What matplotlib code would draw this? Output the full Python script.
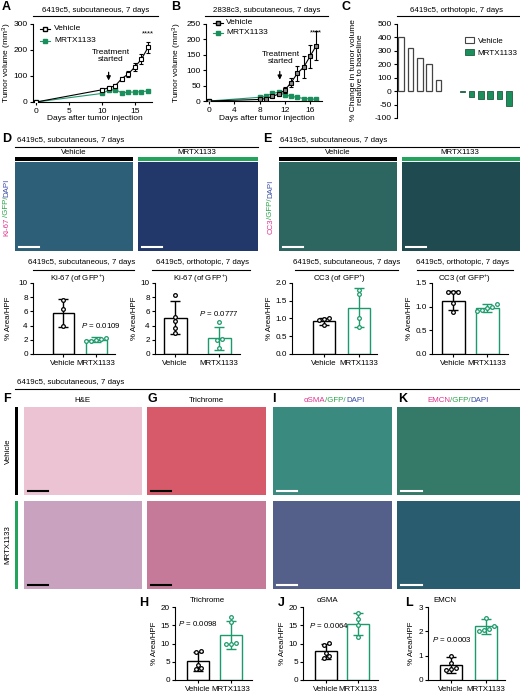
import numpy as np
import matplotlib
matplotlib.use("Agg")
import matplotlib.pyplot as plt
from matplotlib.lines import Line2D
from matplotlib.patches import Rectangle, Patch

FS = 5.7
TFS = 6.0
plt.rcParams['font.family'] = ['Liberation Sans', 'DejaVu Sans']
plt.rcParams['font.size'] = FS
plt.rcParams['mathtext.fontset'] = 'custom'
plt.rcParams['mathtext.rm'] = 'Liberation Sans'
plt.rcParams['mathtext.it'] = 'Liberation Sans:italic'
plt.rcParams['axes.linewidth'] = 0.8
plt.rcParams['xtick.major.width'] = 0.8
plt.rcParams['ytick.major.width'] = 0.8
plt.rcParams['xtick.major.size'] = 2.5
plt.rcParams['ytick.major.size'] = 2.5
plt.rcParams['xtick.major.pad'] = 1.5
plt.rcParams['ytick.major.pad'] = 1.2

# ---- data ----
days_a = [0, 10, 11, 12, 13, 14, 15, 16, 17]
veh_a = [0, 47, 55, 62, 90, 108, 135, 165, 210]
veh_a_err = [0, 5, 5, 6, 8, 12, 15, 18, 22]
mrtx_a = [0, 33, 45, 48, 35, 38, 38, 40, 42]
mrtx_a_err = [0, 3, 4, 4, 3, 4, 3, 3, 4]

days_b = [0, 8, 9, 10, 11, 12, 13, 14, 15, 16, 17]
veh_b = [0, 5, 8, 15, 22, 35, 60, 90, 110, 145, 180]
veh_b_err = [0, 2, 3, 4, 6, 10, 15, 25, 35, 38, 48]
mrtx_b = [0, 12, 15, 25, 28, 20, 15, 12, 8, 7, 5]
mrtx_b_err = [0, 2, 2, 3, 3, 3, 2, 2, 2, 2, 1]

veh_c = [400, 320, 250, 200, 85]
mrtx_c = [-5, -20, -28, -28, -28, -55]

groups = ["Vehicle", "MRTX1133"]

ki67_sc_mean = [5.8, 2.0]
ki67_sc_sd = [2.0, 0.35]
ki67_sc_pts = [[7.6, 6.3, 3.9], [2.3, 2.1, 1.9, 2.0, 1.8]]

ki67_or_mean = [5.1, 2.2]
ki67_or_sd = [2.3, 1.6]
ki67_or_pts = [[8.3, 5.2, 4.6, 3.6, 2.9], [4.5, 2.1, 2.0, 0.8]]

cc3_sc_mean = [0.92, 1.30]
cc3_sc_sd = [0.10, 0.55]
cc3_sc_pts = [[1.0, 0.98, 0.96, 0.82], [1.8, 1.7, 1.0, 0.76]]

cc3_or_mean = [1.13, 0.97]
cc3_or_sd = [0.20, 0.08]
cc3_or_pts = [[1.32, 1.31, 1.30, 1.08, 0.88], [1.05, 1.0, 0.98, 0.94, 0.91]]

tri_mean = [5.2, 12.3]
tri_sd = [2.6, 3.9]
tri_pts = [[8.0, 7.6, 4.0, 3.2, 3.0], [17.2, 15.8, 10.0, 10.1, 9.9]]

sma_mean = [7.9, 15.3]
sma_sd = [2.1, 3.0]
sma_pts = [[10.2, 9.5, 7.5, 6.5, 6.0], [18.4, 16.6, 15.2, 11.8]]

emcn_mean = [0.62, 2.2]
emcn_sd = [0.32, 0.3]
emcn_pts = [[1.0, 0.7, 0.5, 0.42, 0.45], [2.55, 2.2, 2.1, 2.05, 2.0]]

GREEN = '#1d9a6c'
GREEN_FILL = '#1a8f5c'
GREEN_BAR = '#22a45d'
MAG = '#e0338f'
TXT_GREEN = '#2aa34a'
BLUE = '#3b4fa8'

W, H = 520, 694
fig = plt.figure(figsize=(W / 100, H / 100), dpi=100)


def fx(x):
    return x / W


def fy(y):
    return 1 - y / H


def text(x, y, s, **kw):
    kw.setdefault('ha', 'center')
    kw.setdefault('va', 'center')
    kw.setdefault('size', FS)
    return fig.text(fx(x), fy(y), s, **kw)


def hline(x0, x1, y, color='k', lw=0.8):
    fig.add_artist(Line2D([fx(x0), fx(x1)], [fy(y), fy(y)], color=color, lw=lw))


def rect(x0, y0, x1, y1, color):
    fig.add_artist(Rectangle((fx(x0), fy(y1)), fx(x1) - fx(x0), fy(y0) - fy(y1),
                             facecolor=color, edgecolor='none', transform=fig.transFigure))


def axes_px(x0, y0, x1, y1):
    return fig.add_axes([fx(x0), fy(y1), (x1 - x0) / W, (y1 - y0) / H])


def label(x, y, s):
    text(x, y, s, ha='left', size=9, weight='bold')


def prism(ax, size=TFS):
    for sp in ['top', 'right']:
        ax.spines[sp].set_visible(False)
    ax.tick_params(labelsize=size)


def multicolor(x, y, parts, colors, rotation=0, size=FS):
    r = fig.canvas.get_renderer()
    widths = []
    for p in parts:
        t = fig.text(0, 0, p, size=size)
        widths.append(t.get_window_extent(r).width)
        t.remove()
    pos = -sum(widths) / 2
    for p, c, w in zip(parts, colors, widths):
        if rotation == 0:
            text(x + pos, y, p, ha='left', color=c, size=size)
        else:
            text(x, y - pos, p, ha='left', va='center', color=c, size=size,
                 rotation=90, rotation_mode='anchor')
        pos += w


def image(x0, y0, x1, y1, color, bar_color='white'):
    ax = axes_px(x0, y0, x1, y1)
    ax.set_facecolor(color)
    ax.set_xticks([])
    ax.set_yticks([])
    for sp in ax.spines.values():
        sp.set_visible(False)
    ax.plot([0.03, 0.2], [0.05, 0.05], color=bar_color, lw=1.5, transform=ax.transAxes)
    return ax


def swarm(vals, thr, step=0.13):
    vals = np.asarray(vals, float)
    order = np.argsort(vals)
    xs = np.zeros(len(vals))
    grp = [order[0]]
    groups_idx = []
    for k in order[1:]:
        if vals[k] - vals[grp[-1]] < thr:
            grp.append(k)
        else:
            groups_idx.append(grp)
            grp = [k]
    groups_idx.append(grp)
    for g in groups_idx:
        n = len(g)
        for j, k in enumerate(g):
            xs[k] = (j - (n - 1) / 2) * step
    return xs


def bar_panel(box, cv, cm, bw, means, sds, pts, ylim, yticks, fmt,
              title, title_xy, pval=None, pval_xy=None, pad=2):
    L, T, R, B = box
    ax = axes_px(L, T, R, B)
    s = cm - cv
    ax.set_xlim((L - cv) / s, (R - cv) / s)
    ax.set_ylim(*ylim)
    cols = ['black', GREEN]
    for i in range(2):
        ax.bar(i, means[i], width=bw / s, facecolor='white', edgecolor=cols[i], lw=1, zorder=1)
        ax.errorbar(i, means[i], yerr=sds[i], color=cols[i], capsize=3.5, capthick=1,
                    elinewidth=1, zorder=2)
        xs = i + swarm(pts[i], 0.035 * (ylim[1] - ylim[0]), step=5 / s)
        ax.scatter(xs, pts[i], s=7, facecolor='white', edgecolor=cols[i], lw=0.9,
                   zorder=3, clip_on=False)
    prism(ax, 5.9)
    ax.set_xticks([0, 1])
    ax.set_xticklabels(groups, size=FS)
    ax.set_yticks(yticks)
    ax.set_yticklabels([fmt.format(v) for v in yticks])
    ax.set_ylabel("% Area/HPF", size=FS, labelpad=pad)
    text(title_xy[0], title_xy[1], title)
    if pval:
        text(pval_xy[0], pval_xy[1], r"$\it{P}$ = " + pval, ha='left')
    return ax


# ---- A ----
label(2, 7, "A")
text(96, 10, "6419c5, subcutaneous, 7 days")
hline(33, 158, 16)
ax = axes_px(33, 24, 152, 102)
ax.errorbar(days_a, veh_a, yerr=veh_a_err, color='black', lw=0.8, marker='s', ms=3.0,
            mfc='white', mec='black', mew=0.8, capsize=1.5, elinewidth=0.8, zorder=3)
ax.errorbar(days_a, mrtx_a, yerr=mrtx_a_err, color=GREEN, lw=0.8, marker='s', ms=3.0,
            mfc=GREEN_FILL, mec=GREEN_FILL, capsize=1.5, elinewidth=0.8, zorder=2)
ax.set_xlim(-0.5, 17.6)
ax.set_ylim(0, 300)
ax.set_xticks([0, 5, 10, 15])
ax.set_yticks([0, 100, 200, 300])
prism(ax)
ax.annotate("", xy=(11, 72), xytext=(11, 125),
            arrowprops=dict(arrowstyle='-|>', color='black', lw=0.9, mutation_scale=6))
ax.text(11.3, 178, "Treatment\nstarted", ha='center', va='center', size=TFS, linespacing=1.0)
ax.text(17, 262, "****", ha='center', va='center', size=FS)
text(95, 118, "Days after tumor injection", size=TFS)
text(7, 63, "Tumor volume (mm$^3$)", rotation=90, size=TFS)
fig.add_artist(Line2D([fx(40), fx(45), fx(50)], [fy(29)] * 3, color='black', lw=0.8,
                      marker='s', ms=3.0, mfc='white', mec='black', markevery=[1]))
text(54, 29, "Vehicle", ha='left', size=TFS)
fig.add_artist(Line2D([fx(40), fx(45), fx(50)], [fy(41)] * 3, color=GREEN, lw=0.8,
                      marker='s', ms=3.0, mfc=GREEN_FILL, mec=GREEN_FILL, markevery=[1]))
text(54, 41, "MRTX1133", ha='left', size=TFS)

# ---- B ----
label(171, 7, "B")
text(267, 10, "2838c3, subcutaneous, 7 days")
hline(205, 328, 16)
ax = axes_px(206, 24, 322, 101)
ax.errorbar(days_b, veh_b, yerr=veh_b_err, color='black', lw=0.8, marker='s', ms=3.0,
            mfc='#888888', mec='black', mew=0.8, capsize=1.5, elinewidth=0.8, zorder=3)
ax.errorbar(days_b, mrtx_b, yerr=mrtx_b_err, color=GREEN, lw=0.8, marker='s', ms=3.0,
            mfc=GREEN_FILL, mec=GREEN_FILL, capsize=1.5, elinewidth=0.8, zorder=2)
ax.set_xlim(-0.5, 17.9)
ax.set_ylim(0, 250)
ax.set_xticks([0, 4, 8, 12, 16])
ax.set_yticks([0, 50, 100, 150, 200, 250])
prism(ax)
ax.annotate("", xy=(11.2, 60), xytext=(11.2, 105),
            arrowprops=dict(arrowstyle='-|>', color='black', lw=0.9, mutation_scale=6))
ax.text(11.4, 138, "Treatment\nstarted", ha='center', va='center', size=TFS, linespacing=1.0)
ax.text(17, 222, "****", ha='center', va='center', size=FS)
text(267, 118, "Days after tumor injection", size=TFS)
text(177, 63, "Tumor volume (mm$^3$)", rotation=90, size=TFS)
fig.add_artist(Line2D([fx(213), fx(218), fx(223)], [fy(23)] * 3, color='black', lw=0.8,
                      marker='s', ms=3.0, mfc='#888888', mec='black', markevery=[1]))
text(226, 23, "Vehicle", ha='left', size=TFS)
fig.add_artist(Line2D([fx(213), fx(218), fx(223)], [fy(33)] * 3, color=GREEN, lw=0.8,
                      marker='s', ms=3.0, mfc=GREEN_FILL, mec=GREEN_FILL, markevery=[1]))
text(226, 33, "MRTX1133", ha='left', size=TFS)

# ---- C ----
label(342, 7, "C")
text(457, 10, "6419c5, orthotopic, 7 days")
hline(397, 520, 16)
ax = axes_px(397, 24, 513, 118)


def fwd(y):
    y = np.asarray(y, float)
    return np.where(y >= 0, y, 2 * y)


def inv(y):
    y = np.asarray(y, float)
    return np.where(y >= 0, y, y / 2)


ax.set_yscale('function', functions=(fwd, inv))
xv = np.arange(len(veh_c))
xm = len(veh_c) + 1.6 + np.arange(len(mrtx_c))
ax.bar(xv, veh_c, width=0.6, facecolor='white', edgecolor='#444444', lw=0.9)
ax.bar(xm, mrtx_c, width=0.6, facecolor=GREEN_FILL, edgecolor='#1d5c3c', lw=0.6)
ax.set_xlim(-0.45, xm[-1] + 0.45)
ax.set_ylim(-100, 500)
ax.set_yticks([-100, -50, 0, 100, 200, 300, 400, 500])
ax.set_yticklabels(['-100', '-50', '0', '100', '200', '300', '400', '500'])
prism(ax)
ax.spines['bottom'].set_visible(False)
ax.set_xticks([])
text(357, 70, "% Change in tumor volume\nrelative to baseline", rotation=90, linespacing=1.0,
     size=TFS)
ax.legend(handles=[Patch(facecolor='white', edgecolor='#444444', lw=0.8, label='Vehicle'),
                   Patch(facecolor=GREEN_FILL, edgecolor='#1d5c3c', lw=0.6, label='MRTX1133')],
          loc='upper left', bbox_to_anchor=(0.555, 0.9), frameon=False, fontsize=5.8,
          handlelength=1.2, handleheight=0.8, handletextpad=0.4, labelspacing=0.6,
          borderaxespad=0)

# ---- D ----
label(2, 139, "D")
text(17, 141, "6419c5, subcutaneous, 7 days", ha='left')
hline(15, 258, 147)
text(74, 153, "Vehicle")
text(197, 153, "MRTX1133")
rect(15, 157, 133, 161, 'black')
rect(138, 157, 258, 161, GREEN_BAR)
image(15, 162, 133, 251, '#2d5f78')
image(138, 162, 258, 251, '#22386a')
multicolor(7, 207, ["Ki-67", "/GFP/", "DAPI"], [MAG, TXT_GREEN, BLUE], rotation=90)

# ---- E ----
label(263, 139, "E")
text(280, 141, "6419c5, subcutaneous, 7 days", ha='left')
hline(279, 520, 147)
text(338, 153, "Vehicle")
text(460, 153, "MRTX1133")
rect(279, 157, 397, 161, 'black')
rect(402, 157, 520, 161, GREEN_BAR)
image(279, 162, 397, 251, '#2d6660')
image(402, 162, 520, 251, '#1f4a50')
multicolor(271, 207, ["CC3", "/GFP/", "DAPI"], [MAG, TXT_GREEN, BLUE], rotation=90)

# ---- bar charts, middle row ----
text(82, 262, "6419c5, subcutaneous, 7 days")
hline(33, 134, 270)
bar_panel((33, 283, 115, 354), 63, 96, 21, ki67_sc_mean, ki67_sc_sd, ki67_sc_pts,
          (0, 10), [0, 2, 4, 6, 8, 10], "{:g}", "Ki-67 (of GFP$^{+}$)", (78, 279),
          "0.0109", (81, 325), pad=5)
text(203, 262, "6419c5, orthotopic, 7 days")
hline(152, 250, 270)
bar_panel((155, 283, 240, 354), 175, 219, 23, ki67_or_mean, ki67_or_sd, ki67_or_pts,
          (0, 10), [0, 2, 4, 6, 8, 10], "{:g}", "Ki-67 (of GFP$^{+}$)", (201, 279),
          "0.0777", (199, 313))
text(347, 262, "6419c5, subcutaneous, 7 days")
hline(295, 398, 270)
bar_panel((292, 283, 377, 354), 324, 359, 22, cc3_sc_mean, cc3_sc_sd, cc3_sc_pts,
          (0, 2.0), [0, 0.5, 1.0, 1.5, 2.0], "{:.1f}", "CC3 (of GFP$^{+}$)", (340, 279))
text(462, 262, "6419c5, orthotopic, 7 days")
hline(417, 513, 270)
bar_panel((432, 283, 508, 354), 453, 487, 23, cc3_or_mean, cc3_or_sd, cc3_or_pts,
          (0, 1.5), [0, 0.5, 1.0, 1.5], "{:.1f}", "CC3 (of GFP$^{+}$)", (465, 279))

# ---- F-K ----
text(17, 383, "6419c5, subcutaneous, 7 days", ha='left')
hline(15, 520, 389)
label(3, 399, "F")
text(82, 400, "H&E")
label(148, 399, "G")
text(206, 400, "Trichrome")
label(272, 399, "I")
multicolor(334, 400, ["\u03b1SMA", "/GFP/", "DAPI"], [MAG, TXT_GREEN, BLUE])
label(398, 399, "K")
multicolor(458, 400, ["EMCN", "/GFP/", "DAPI"], [MAG, TXT_GREEN, BLUE])

rect(15, 407, 18, 495, 'black')
rect(15, 501, 18, 589, GREEN_BAR)
text(8, 451, "Vehicle", rotation=90)
text(8, 545, "MRTX1133", rotation=90)

image(24, 407, 142, 495, '#ebc3d3', bar_color='black')
image(147, 407, 266, 495, '#d65a6a', bar_color='black')
image(273, 407, 392, 495, '#3b8a80')
image(397, 407, 520, 495, '#357a68')
image(24, 501, 142, 589, '#c9a2c0', bar_color='black')
image(147, 501, 266, 589, '#c47a98', bar_color='black')
image(273, 501, 392, 589, '#55608a')
image(397, 501, 520, 589, '#2a5c70')

# ---- H, J, L ----
label(139, 603, "H")
bar_panel((175, 607, 252, 680), 198, 231, 22, tri_mean, tri_sd, tri_pts,
          (0, 20), [0, 5, 10, 15, 20], "{:g}", "Trichrome", (207, 600),
          "0.0098", (178, 624))
label(278, 603, "J")
bar_panel((303, 607, 378, 680), 326, 358, 22, sma_mean, sma_sd, sma_pts,
          (0, 20), [0, 5, 10, 15, 20], "{:g}", "\u03b1SMA", (327, 600),
          "0.0064", (309, 626))
label(405, 603, "L")
bar_panel((428, 607, 505, 680), 451, 486, 22, emcn_mean, emcn_sd, emcn_pts,
          (0, 3), [0, 1, 2, 3], "{:g}", "EMCN", (445, 600),
          "0.0003", (432, 639))

fig.savefig("out.png", dpi=100)
